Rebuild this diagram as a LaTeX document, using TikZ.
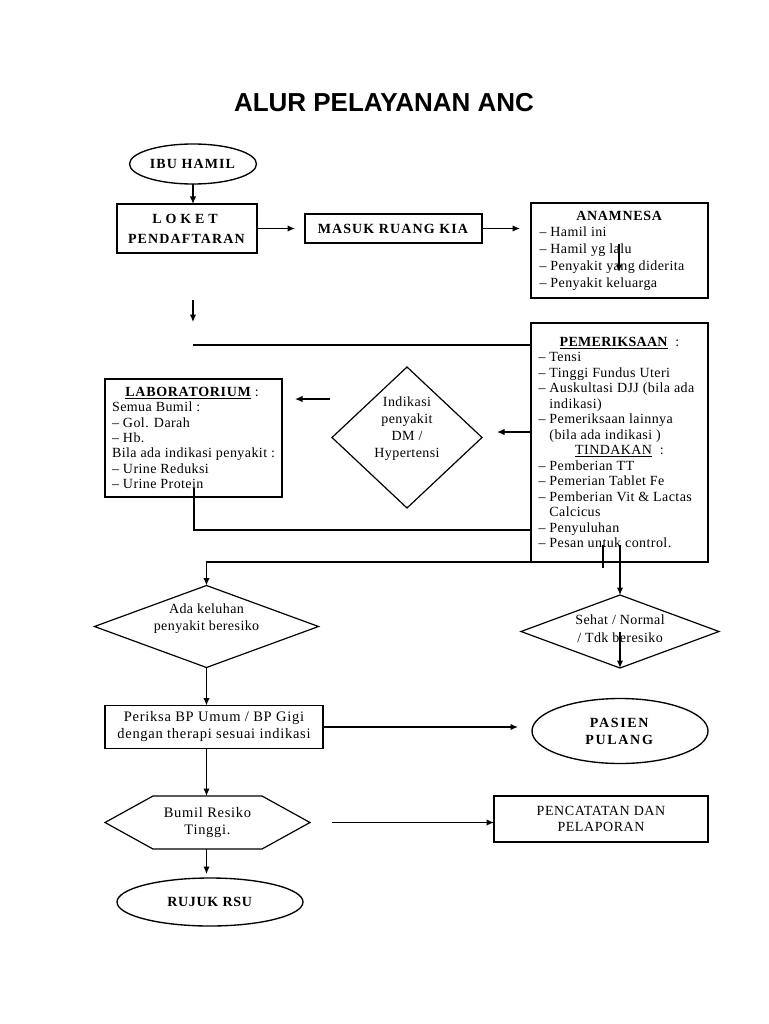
\documentclass[tikz,border=0pt]{standalone}
\usepackage{fontspec}
\setmainfont{Liberation Serif}[LetterSpace=3]
\newfontfamily\titlefont{Liberation Sans}
\newcommand\ls[2]{{\addfontfeature{LetterSpace=#1}#2}}
\usetikzlibrary{shapes.geometric,arrows.meta,calc}
\begin{document}
\begin{tikzpicture}[x=1pt,y=-1pt,
  every node/.style={inner sep=0pt,outer sep=0pt},
  shp/.style={draw,line width=1.35pt,font=\fontsize{14}{16}\selectfont},
  bx/.style={shp,rectangle,align=center},
  lst/.style={shp,rectangle,align=left},
  el/.style={shp,ellipse,align=center},
  dia/.style={shp,diamond,line width=1.2pt},
  txt/.style={align=center,font=\fontsize{14}{17}\selectfont},
  ln/.style={line width=1.3pt},
  arr/.style={line width=1.3pt,-{Latex[length=7.5pt,width=6.5pt]}}]
\useasboundingbox[fill=white] (0,0) rectangle (768,1024);

\node[font=\titlefont\bfseries\fontsize{26}{30}\selectfont] (title) at (384,103) {ALUR PELAYANAN ANC};

\node[el,minimum width=127,minimum height=40] (ibu) at (193,164) {\textbf{\ls{8}{IBU HAMIL}}};
\node[bx,minimum width=140,minimum height=49,font=\fontsize{14}{20}\selectfont] (loket) at (187,228.5)
  {\textbf{\ls{28}{LOKET}}\\\textbf{\ls{8}{PENDAFTARAN}}};
\node[bx,minimum width=177,minimum height=29] (masuk) at (393.5,228.5) {\textbf{\ls{8}{MASUK RUANG KIA}}};

\node[lst,minimum width=177,minimum height=95,font=\fontsize{14}{16.75}\selectfont] (anam) at (619.5,250.5)
  {\makebox[160pt]{\textbf{\ls{5}{ANAMNESA}}}\\
   – Hamil ini\\
   – Hamil yg lalu\\
   – Penyakit yang diderita\\
   – Penyakit keluarga};

\node[lst,minimum width=177,minimum height=239,font=\fontsize{14}{15.5}\selectfont] (pem) at (619.5,442.5)
  {\makebox[162pt]{\textbf{\ls{2}{\underline{PEMERIKSAAN}}}\ \ :}\\
   – Tensi\\
   – Tinggi Fundus Uteri\\
   – Auskultasi DJJ (bila ada\\
   \phantom{– }indikasi)\\
   – Pemeriksaan lainnya\\
   \phantom{– }(bila ada indikasi )\\
   \makebox[162pt]{\underline{TINDAKAN}\ \ :}\\
   – Pemberian TT\\
   – Pemerian Tablet Fe\\
   – Pemberian Vit \& Lactas\\
   \phantom{– }Calcicus\\
   – Penyuluhan\\
   – Pesan untuk control.};

\node[lst,minimum width=177,minimum height=118,font=\fontsize{14}{15.3}\selectfont] (lab) at (193.5,438)
  {\makebox[160pt]{\textbf{\ls{5}{\underline{LABORATORIUM}}} :}\\
   Semua Bumil :\\
   – Gol. Darah\\
   – Hb.\\
   Bila ada indikasi penyakit :\\
   – Urine Reduksi\\
   – Urine Protein};

\node[dia,minimum width=150,minimum height=141] (dm) at (407,437.5) {};
\node[txt] (dmt) at (407,429) {Indikasi\\penyakit\\DM /\\Hypertensi};

\node[dia,minimum width=224,minimum height=82] (ada) at (206.5,626.5) {};
\node[txt] (adat) at (206.5,619) {Ada keluhan\\penyakit beresiko};

\node[dia,minimum width=198,minimum height=73] (sehat) at (620,631.5) {};
\node[txt,font=\fontsize{14}{18}\selectfont] (sehatt) at (620,629) {Sehat / Normal\\/ Tdk beresiko};

\node[bx,minimum width=218,minimum height=43,font=\fontsize{14.5}{17}\selectfont] (periksa) at (214,727)
  {\ls{5}{Periksa BP Umum / BP Gigi}\\\ls{5}{dengan therapi sesuai indikasi}};
\node[el,minimum width=176,minimum height=65,font=\fontsize{14}{17}\selectfont] (pasien) at (620,731)
  {\textbf{\ls{12}{PASIEN}}\\\textbf{\ls{12}{PULANG}}};

\node[align=center,minimum width=205,minimum height=53,font=\fontsize{14.5}{17}\selectfont] (hex) at (207.5,822.5)
  {\ls{5}{Bumil Resiko}\\\ls{5}{Tinggi.}};
\draw[dia] ([xshift=48pt]hex.north west) -- ([xshift=-48pt]hex.north east) -- (hex.east)
  -- ([xshift=-48pt]hex.south east) -- ([xshift=48pt]hex.south west) -- (hex.west) -- cycle;

\node[bx,minimum width=214,minimum height=46,font=\fontsize{14}{15.5}\selectfont] (penc) at (601,819)
  {\ls{4}{PENCATATAN DAN}\\\ls{4}{PELAPORAN}};
\node[el,minimum width=186,minimum height=48] (rujuk) at (210,902) {\textbf{\ls{5}{RUJUK RSU}}};

\coordinate (s1) at (619,244); \coordinate (s2) at (619,272);
\coordinate (d1) at (193,300); \coordinate (d2) at (193,322);
\coordinate (h1) at (193,345);
\coordinate (r1) at (497,432);
\coordinate (p1) at (330,399);
\coordinate (q1) at (194,488); \coordinate (q2) at (194,530);
\coordinate (v1) at (603,545); \coordinate (v2) at (603,568);
\coordinate (w1) at (620,545);
\coordinate (w2) at (620,632);

\draw[arr] (ibu.south) -- (ibu.south |- loket.north);
\draw[arr] (loket.east) -- ([xshift=-10pt]masuk.west);
\draw[arr] (masuk.east) -- ([xshift=-11pt]anam.west |- masuk.east);
\draw[arr] (s1) -- (s2);
\draw[arr] (d1) -- (d2);
\draw[ln] (h1) -- (h1 -| pem.west);
\draw[arr] (r1 -| pem.west) -- (r1);
\draw[arr,shorten >=13pt] (p1) -- (p1 -| lab.east);
\draw[ln] (q1) -- (q2) -- (q2 -| pem.west);
\draw[arr] (pem.south west) -- (pem.south west -| ada.north) -- (ada.north);
\draw[ln] (v1) -- (v2);
\draw[arr] (w1) -- (sehat.north);
\draw[arr] (w2) -- (sehat.south);
\draw[arr] (ada.south) -- (ada.south |- periksa.north);
\draw[arr,shorten >=14pt] (periksa.east) -- (periksa.east -| pasien.west);
\draw[arr] (ada.south |- periksa.south) -- (ada.south |- hex.north);
\draw[arr] ([xshift=22pt]hex.east) -- (hex.east -| penc.west);
\draw[arr,shorten >=4pt] (ada.south |- hex.south) -- (ada.south |- rujuk.north);
\end{tikzpicture}
\end{document}
